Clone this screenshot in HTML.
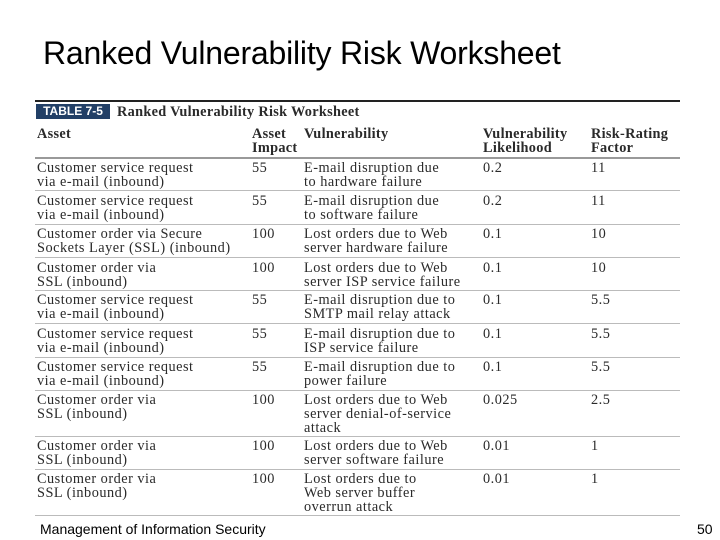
<!DOCTYPE html>
<html><head><meta charset="utf-8"><style>
body{margin:0;width:720px;height:540px;background:#fff;position:relative;overflow:hidden;font-family:"Liberation Serif",serif;color:#2a2a2a}
.t{position:absolute;left:43px;top:35px;font:32px "Liberation Sans",sans-serif;letter-spacing:-0.2px;color:#000}
.hl{position:absolute;left:35px;width:645px;height:1px;background:#bbb}
.c{position:absolute;font-size:14.3px;letter-spacing:0.5px;line-height:14px;white-space:nowrap}
.h{font-weight:bold;letter-spacing:0.3px}
.f{position:absolute;top:521px;font:14px "Liberation Sans",sans-serif;color:#000}
</style></head><body>
<div class="t">Ranked Vulnerability Risk Worksheet</div>
<div class="hl" style="top:100px;height:2px;background:#222"></div>
<div style="position:absolute;left:36px;top:104px;width:74px;height:15px;background:#223f66;color:#fff;font:bold 12px 'Liberation Sans',sans-serif;line-height:15px;text-align:center">TABLE 7-5</div>
<div class="c h" style="left:117px;top:105px;font-size:14.3px">Ranked Vulnerability Risk Worksheet</div>
<div class="c h" style="left:37px;top:127px">Asset</div>
<div class="c h" style="left:252px;top:127px">Asset<br>Impact</div>
<div class="c h" style="left:304px;top:127px">Vulnerability</div>
<div class="c h" style="left:483px;top:127px">Vulnerability<br>Likelihood</div>
<div class="c h" style="left:591px;top:127px">Risk-Rating<br>Factor</div>
<div class="hl" style="top:157px;height:2px;background:#999"></div>

<div class="c" style="left:37px;top:161px">Customer service request<br>via e-mail (inbound)</div><div class="c" style="left:252px;top:161px">55</div><div class="c" style="left:304px;top:161px">E-mail disruption due<br>to hardware failure</div><div class="c" style="left:483px;top:161px">0.2</div><div class="c" style="left:591px;top:161px">11</div>
<div class="hl" style="top:190px"></div>
<div class="c" style="left:37px;top:194px">Customer service request<br>via e-mail (inbound)</div><div class="c" style="left:252px;top:194px">55</div><div class="c" style="left:304px;top:194px">E-mail disruption due<br>to software failure</div><div class="c" style="left:483px;top:194px">0.2</div><div class="c" style="left:591px;top:194px">11</div>
<div class="hl" style="top:224px"></div>
<div class="c" style="left:37px;top:227px">Customer order via Secure<br>Sockets Layer (SSL) (inbound)</div><div class="c" style="left:252px;top:227px">100</div><div class="c" style="left:304px;top:227px">Lost orders due to Web<br>server hardware failure</div><div class="c" style="left:483px;top:227px">0.1</div><div class="c" style="left:591px;top:227px">10</div>
<div class="hl" style="top:257px"></div>
<div class="c" style="left:37px;top:261px">Customer order via<br>SSL (inbound)</div><div class="c" style="left:252px;top:261px">100</div><div class="c" style="left:304px;top:261px">Lost orders due to Web<br>server ISP service failure</div><div class="c" style="left:483px;top:261px">0.1</div><div class="c" style="left:591px;top:261px">10</div>
<div class="hl" style="top:290px"></div>
<div class="c" style="left:37px;top:293px">Customer service request<br>via e-mail (inbound)</div><div class="c" style="left:252px;top:293px">55</div><div class="c" style="left:304px;top:293px">E-mail disruption due to<br>SMTP mail relay attack</div><div class="c" style="left:483px;top:293px">0.1</div><div class="c" style="left:591px;top:293px">5.5</div>
<div class="hl" style="top:323px"></div>
<div class="c" style="left:37px;top:327px">Customer service request<br>via e-mail (inbound)</div><div class="c" style="left:252px;top:327px">55</div><div class="c" style="left:304px;top:327px">E-mail disruption due to<br>ISP service failure</div><div class="c" style="left:483px;top:327px">0.1</div><div class="c" style="left:591px;top:327px">5.5</div>
<div class="hl" style="top:357px"></div>
<div class="c" style="left:37px;top:360px">Customer service request<br>via e-mail (inbound)</div><div class="c" style="left:252px;top:360px">55</div><div class="c" style="left:304px;top:360px">E-mail disruption due to<br>power failure</div><div class="c" style="left:483px;top:360px">0.1</div><div class="c" style="left:591px;top:360px">5.5</div>
<div class="hl" style="top:390px"></div>
<div class="c" style="left:37px;top:393px">Customer order via<br>SSL (inbound)</div><div class="c" style="left:252px;top:393px">100</div><div class="c" style="left:304px;top:393px">Lost orders due to Web<br>server denial-of-service<br>attack</div><div class="c" style="left:483px;top:393px">0.025</div><div class="c" style="left:591px;top:393px">2.5</div>
<div class="hl" style="top:436px"></div>
<div class="c" style="left:37px;top:439px">Customer order via<br>SSL (inbound)</div><div class="c" style="left:252px;top:439px">100</div><div class="c" style="left:304px;top:439px">Lost orders due to Web<br>server software failure</div><div class="c" style="left:483px;top:439px">0.01</div><div class="c" style="left:591px;top:439px">1</div>
<div class="hl" style="top:469px"></div>
<div class="c" style="left:37px;top:472px">Customer order via<br>SSL (inbound)</div><div class="c" style="left:252px;top:472px">100</div><div class="c" style="left:304px;top:472px">Lost orders due to<br>Web server buffer<br>overrun attack</div><div class="c" style="left:483px;top:472px">0.01</div><div class="c" style="left:591px;top:472px">1</div>
<div class="hl" style="top:515px"></div>
<div class="f" style="left:40px">Management of Information Security</div>
<div class="f" style="left:697px">50</div>
</body></html>
